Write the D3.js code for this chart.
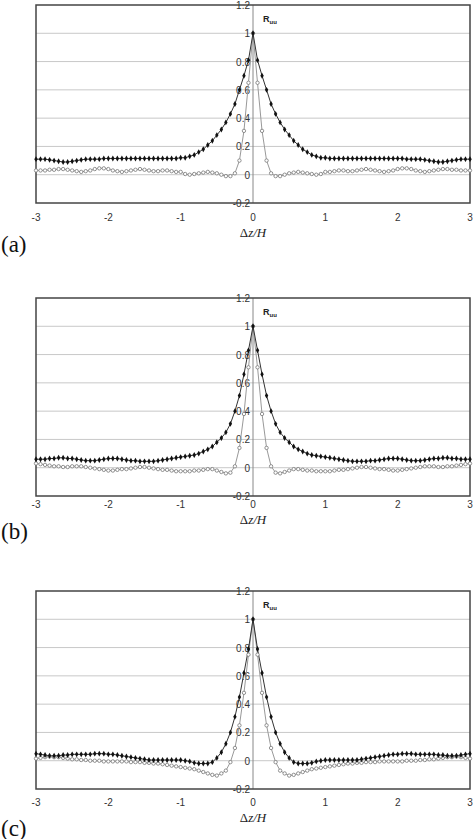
<!DOCTYPE html>
<html lang="en">
<meta charset="utf-8">
<style>
  html,body{margin:0;padding:0;background:#fff;}
  svg text{font-family:"Liberation Sans",Arial,sans-serif;}
</style>
<body>
<svg id="chart" width="474" height="839"></svg>
<script src="https://cdnjs.cloudflare.com/ajax/libs/d3/7.8.5/d3.min.js"></script>
<script>
// half profiles, dz/H = 0, 1/16, ... 3 ; curves are mirrored about dz = 0
const dzStep = 1/16
const xTicks = [-3,-2,-1,0,1,2,3]
const yTicks = [-0.2,0,0.2,0.4,0.6,0.8,1,1.2]
const panelLabels = ['(a)','(b)','(c)']

const blackA = [1,.81,.70,.60,.50,.43,.37,.32,.28,.24,.21,.18,.16,.14,.13,.12,
  .12,.115,.115,.115,.115,.115,.115,.115,.115,.115,.115,.115,.115,.115,.115,.115,
  .115,.115,.11,.11,.11,.11,.105,.10,.095,.09,.09,.095,.10,.105,.11,.11,.11]
const greyA = [1,.65,.31,.10,.01,-.01,-.01,0,.01,.015,.02,.015,.01,.005,0,.005,
  .02,.02,.025,.03,.03,.025,.025,.03,.035,.04,.035,.03,.025,.02,.025,.03,
  .04,.045,.045,.04,.03,.025,.02,.025,.03,.035,.04,.04,.035,.035,.03,.03,.03]
const blackB = [1,.83,.66,.51,.40,.31,.25,.21,.18,.15,.13,.115,.10,.09,.085,.08,
  .075,.07,.065,.06,.055,.05,.045,.045,.045,.045,.05,.05,.055,.06,.065,.065,
  .065,.06,.055,.05,.05,.05,.055,.06,.065,.065,.07,.07,.065,.065,.06,.06,.06]
const greyB = [1,.71,.38,.14,.01,-.035,-.04,-.03,-.02,-.01,-.01,-.015,-.02,-.02,-.025,-.025,
  -.025,-.025,-.02,-.015,-.015,-.01,-.005,0,.005,.005,0,-.005,-.01,-.01,-.015,-.02,
  -.02,-.015,-.01,-.005,0,.005,.01,.01,.01,.005,.005,.01,.01,.015,.02,.025,.03]
const blackC = [1,.79,.62,.45,.31,.20,.12,.06,.02,-.01,-.02,-.02,-.02,-.015,-.005,0,
  .005,.005,.005,.005,.005,.005,.005,.005,.01,.015,.02,.025,.03,.035,.04,.045,
  .045,.05,.05,.05,.045,.045,.045,.045,.045,.04,.04,.035,.035,.035,.04,.045,.05]
const greyC = [1,.75,.48,.25,.09,-.01,-.07,-.09,-.105,-.10,-.09,-.08,-.07,-.06,-.055,-.05,
  -.045,-.04,-.035,-.03,-.025,-.02,-.02,-.015,-.015,-.01,-.01,-.01,-.005,-.005,-.005,-.005,
  -.005,-.005,0,0,0,.005,.005,.01,.01,.015,.02,.025,.025,.03,.025,.02,.015]

function full(half){
  let pts = []
  for(let i=half.length-1;i>0;i--) pts.push([-i*dzStep, half[i]])
  half.forEach((v,i)=>pts.push([i*dzStep, v]))
  return pts
}

const panels = [
  {top:5, bottom:203, tickY:221, titleY:237, tagY:252, black:blackA, grey:greyA},
  {top:298, bottom:496, tickY:508, titleY:524, tagY:539, black:blackB, grey:greyB},
  {top:591, bottom:789, tickY:806, titleY:822, tagY:836, black:blackC, grey:greyC}
]

const svg = d3.select('#chart')
const left = 36, right = 470

panels.forEach((p,k)=>{
  const x = d3.scaleLinear().domain([-3,3]).range([left,right])
  const y = d3.scaleLinear().domain([-0.2,1.2]).range([p.bottom,p.top])
  const g = svg.append('g')

  g.selectAll('.grid').data(yTicks.slice(1,-1)).join('line')
    .attr('x1',left).attr('x2',right)
    .attr('y1',d=>y(d)).attr('y2',d=>y(d))
    .attr('stroke','#c8c8c8').attr('stroke-width',1)

  g.append('line').attr('x1',x(0)).attr('x2',x(0))
    .attr('y1',p.top).attr('y2',p.bottom).attr('stroke','#888')

  g.append('rect').attr('x',left).attr('y',p.top)
    .attr('width',right-left).attr('height',p.bottom-p.top)
    .attr('fill','none').attr('stroke','#444').attr('stroke-width',1.5)

  g.selectAll('.yl').data(yTicks).join('text')
    .attr('x',x(0)-3).attr('y',d=>y(d)+4)
    .attr('text-anchor','end').attr('font-size',10).attr('fill','#333')
    .text(d=>+d.toFixed(1))

  g.selectAll('.xl').data(xTicks).join('text')
    .attr('x',d=>x(d)).attr('y',p.tickY)
    .attr('text-anchor','middle').attr('font-size',10).attr('fill','#333')
    .text(d=>d)

  const line = d3.line().x(d=>x(d[0])).y(d=>y(d[1]))
  const gp = full(p.grey), bp = full(p.black)

  g.append('path').datum(gp).attr('d',line)
    .attr('fill','none').attr('stroke','#999').attr('stroke-width',1)
  g.append('path').datum(bp).attr('d',line)
    .attr('fill','none').attr('stroke','#333').attr('stroke-width',1)

  g.selectAll('.gm').data(gp).join('circle')
    .attr('cx',d=>x(d[0])).attr('cy',d=>y(d[1])).attr('r',1.7)
    .attr('fill','#fff').attr('stroke','#777').attr('stroke-width',0.8)
  g.selectAll('.bm').data(bp).join('path')
    .attr('transform',d=>`translate(${x(d[0])},${y(d[1])})`)
    .attr('d',d3.symbol(d3.symbolDiamond,10))
    .attr('fill','#111')

  const r = g.append('text').attr('x',x(0)+10).attr('y',y(1.2)+17)
    .attr('font-size',9).attr('font-weight','bold').attr('fill','#222')
  r.append('tspan').text('R')
  r.append('tspan').attr('font-size',6).attr('dy',2).text('uu')

  const t = g.append('text').attr('x',x(0)).attr('y',p.titleY)
    .attr('text-anchor','middle').style('font-family','"Liberation Serif",serif')
    .attr('font-size',13).attr('fill','#222')
  t.append('tspan').text('\u0394')
  t.append('tspan').attr('font-style','italic').text('z/H')

  g.append('text').attr('x',1).attr('y',p.tagY)
    .style('font-family','"Liberation Serif",serif').attr('font-size',23).attr('fill','#111')
    .text(panelLabels[k])
})
</script>
</body>
</html>
